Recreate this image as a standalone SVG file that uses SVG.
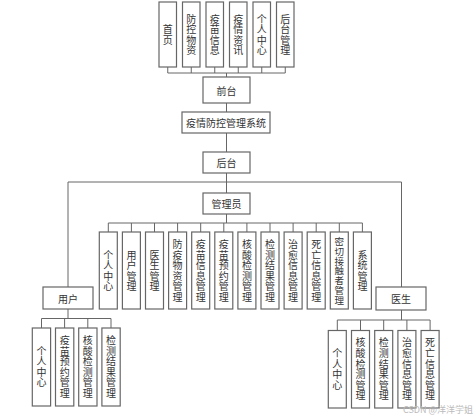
<svg xmlns="http://www.w3.org/2000/svg" width="474" height="418" viewBox="0 0 474 418">
<style>
.b{fill:#fff;stroke:#666;stroke-width:1.2}
.t{font-family:"Noto Sans CJK SC","Noto Sans",sans-serif;font-size:10px;fill:#333;text-anchor:middle;dominant-baseline:central}
.v{font-family:"Noto Sans CJK SC","Noto Sans",sans-serif;font-size:10px;fill:#333;text-anchor:middle;writing-mode:vertical-rl;text-orientation:upright;letter-spacing:0.6px}
.c{fill:none;stroke:#666;stroke-width:1}
.w{font-family:"Noto Sans CJK SC","Noto Sans",sans-serif;font-size:9px;fill:#bbb}
</style>
<rect width="474" height="418" fill="#fff"/>
<g id="connectors" class="c">
<path d="M167.75 67V73M191.25 67V73M214.75 67V73M238.25 67V73M261.75 67V73M285.25 67V73M167.75 73H285.25M226.5 73V77"/>
<path d="M226.5 103V112M226.5 133V152M226.5 173V193"/>
<path d="M68 182H401.5M68 182V287M401.5 182V287"/>
<path d="M226.5 214V223M108.3 223H362.5"/>
<path d="M108.3 223V232M131.4 223V232M154.5 223V232M177.6 223V232M200.7 223V232M223.8 223V232M246.9 223V232M270 223V232M293.1 223V232M316.2 223V232M339.3 223V232M362.4 223V232"/>
<path d="M68 309V318.5M41.5 318.5H111M41.5 318.5V328M64.6 318.5V328M87.8 318.5V328M111 318.5V328"/>
<path d="M401.5 310V320M337.3 320H430.1M337.3 320V330.5M360.5 320V330.5M383.7 320V330.5M406.9 320V330.5M430.1 320V330.5"/>
</g>
<g id="n-shouye"><rect class="b" x="159" y="2" width="17.5" height="65"/><text class="v" x="167.75" y="35">首页</text></g>
<g id="n-fkwz"><rect class="b" x="182.5" y="2" width="17.5" height="65"/><text class="v" x="191.25" y="35">防控物资</text></g>
<g id="n-ymxx"><rect class="b" x="206" y="2" width="17.5" height="65"/><text class="v" x="214.75" y="35">疫苗信息</text></g>
<g id="n-yqzx"><rect class="b" x="229.5" y="2" width="17.5" height="65"/><text class="v" x="238.25" y="35">疫情资讯</text></g>
<g id="n-grzx-top"><rect class="b" x="253" y="2" width="17.5" height="65"/><text class="v" x="261.75" y="35">个人中心</text></g>
<g id="n-htgl"><rect class="b" x="276.5" y="2" width="17.5" height="65"/><text class="v" x="285.25" y="35">后台管理</text></g>
<g id="n-qiantai"><rect class="b" x="203" y="77" width="47" height="26"/><text class="t" x="226.5" y="90">前台</text></g>
<g id="n-system"><rect class="b" x="182" y="112" width="88" height="21"/><text class="t" x="226" y="122.5">疫情防控管理系统</text></g>
<g id="n-houtai"><rect class="b" x="203" y="152" width="47" height="21"/><text class="t" x="226.5" y="162.5">后台</text></g>
<g id="n-admin"><rect class="b" x="203" y="193" width="47" height="21"/><text class="t" x="226.5" y="203.5">管理员</text></g>
<g id="a1"><rect class="b" x="99.3" y="232" width="18" height="77"/><text class="v" x="108.3" y="271">个人中心</text></g>
<g id="a2"><rect class="b" x="122.4" y="232" width="18" height="77"/><text class="v" x="131.4" y="271">用户管理</text></g>
<g id="a3"><rect class="b" x="145.5" y="232" width="18" height="77"/><text class="v" x="154.5" y="271">医生管理</text></g>
<g id="a4"><rect class="b" x="168.6" y="232" width="18" height="77"/><text class="v" x="177.6" y="271">防疫物资管理</text></g>
<g id="a5"><rect class="b" x="191.7" y="232" width="18" height="77"/><text class="v" x="200.7" y="271">疫苗信息管理</text></g>
<g id="a6"><rect class="b" x="214.8" y="232" width="18" height="77"/><text class="v" x="223.8" y="271">疫苗预约管理</text></g>
<g id="a7"><rect class="b" x="237.9" y="232" width="18" height="77"/><text class="v" x="246.9" y="271">核酸检测管理</text></g>
<g id="a8"><rect class="b" x="261" y="232" width="18" height="77"/><text class="v" x="270" y="271">检测结果管理</text></g>
<g id="a9"><rect class="b" x="284.1" y="232" width="18" height="77"/><text class="v" x="293.1" y="271">治愈信息管理</text></g>
<g id="a10"><rect class="b" x="307.2" y="232" width="18" height="77"/><text class="v" x="316.2" y="271">死亡信息管理</text></g>
<g id="a11"><rect class="b" x="330.3" y="232" width="18" height="77"/><text class="v" x="339.3" y="271" style="font-size:9.5px;letter-spacing:0.3px">密切接触者管理</text></g>
<g id="a12"><rect class="b" x="353.4" y="232" width="18" height="77"/><text class="v" x="362.4" y="271">系统管理</text></g>
<g id="n-user"><rect class="b" x="43" y="287" width="50" height="22"/><text class="t" x="68" y="298">用户</text></g>
<g id="u1"><rect class="b" x="32.3" y="328" width="18.3" height="78"/><text class="v" x="41.45" y="367">个人中心</text></g>
<g id="u2"><rect class="b" x="55.5" y="328" width="18.3" height="78"/><text class="v" x="64.65" y="367">疫苗预约管理</text></g>
<g id="u3"><rect class="b" x="78.7" y="328" width="18.3" height="78"/><text class="v" x="87.85" y="367">核酸检测管理</text></g>
<g id="u4"><rect class="b" x="101.9" y="328" width="18.3" height="78"/><text class="v" x="111.05" y="367">检测结果管理</text></g>
<g id="n-doctor"><rect class="b" x="376" y="287" width="50" height="23"/><text class="t" x="401" y="298.5">医生</text></g>
<g id="d1"><rect class="b" x="328.3" y="330.5" width="18" height="77.5"/><text class="v" x="337.3" y="369.5">个人中心</text></g>
<g id="d2"><rect class="b" x="351.5" y="330.5" width="18" height="77.5"/><text class="v" x="360.5" y="369.5">核酸检测管理</text></g>
<g id="d3"><rect class="b" x="374.7" y="330.5" width="18" height="77.5"/><text class="v" x="383.7" y="369.5">检测结果管理</text></g>
<g id="d4"><rect class="b" x="397.9" y="330.5" width="18" height="77.5"/><text class="v" x="406.9" y="369.5">治愈信息管理</text></g>
<g id="d5"><rect class="b" x="421.1" y="330.5" width="18" height="77.5"/><text class="v" x="430.1" y="369.5">死亡信息管理</text></g>
<text class="w" x="403" y="413">CSDN @洋洋学姐</text>
</svg>
